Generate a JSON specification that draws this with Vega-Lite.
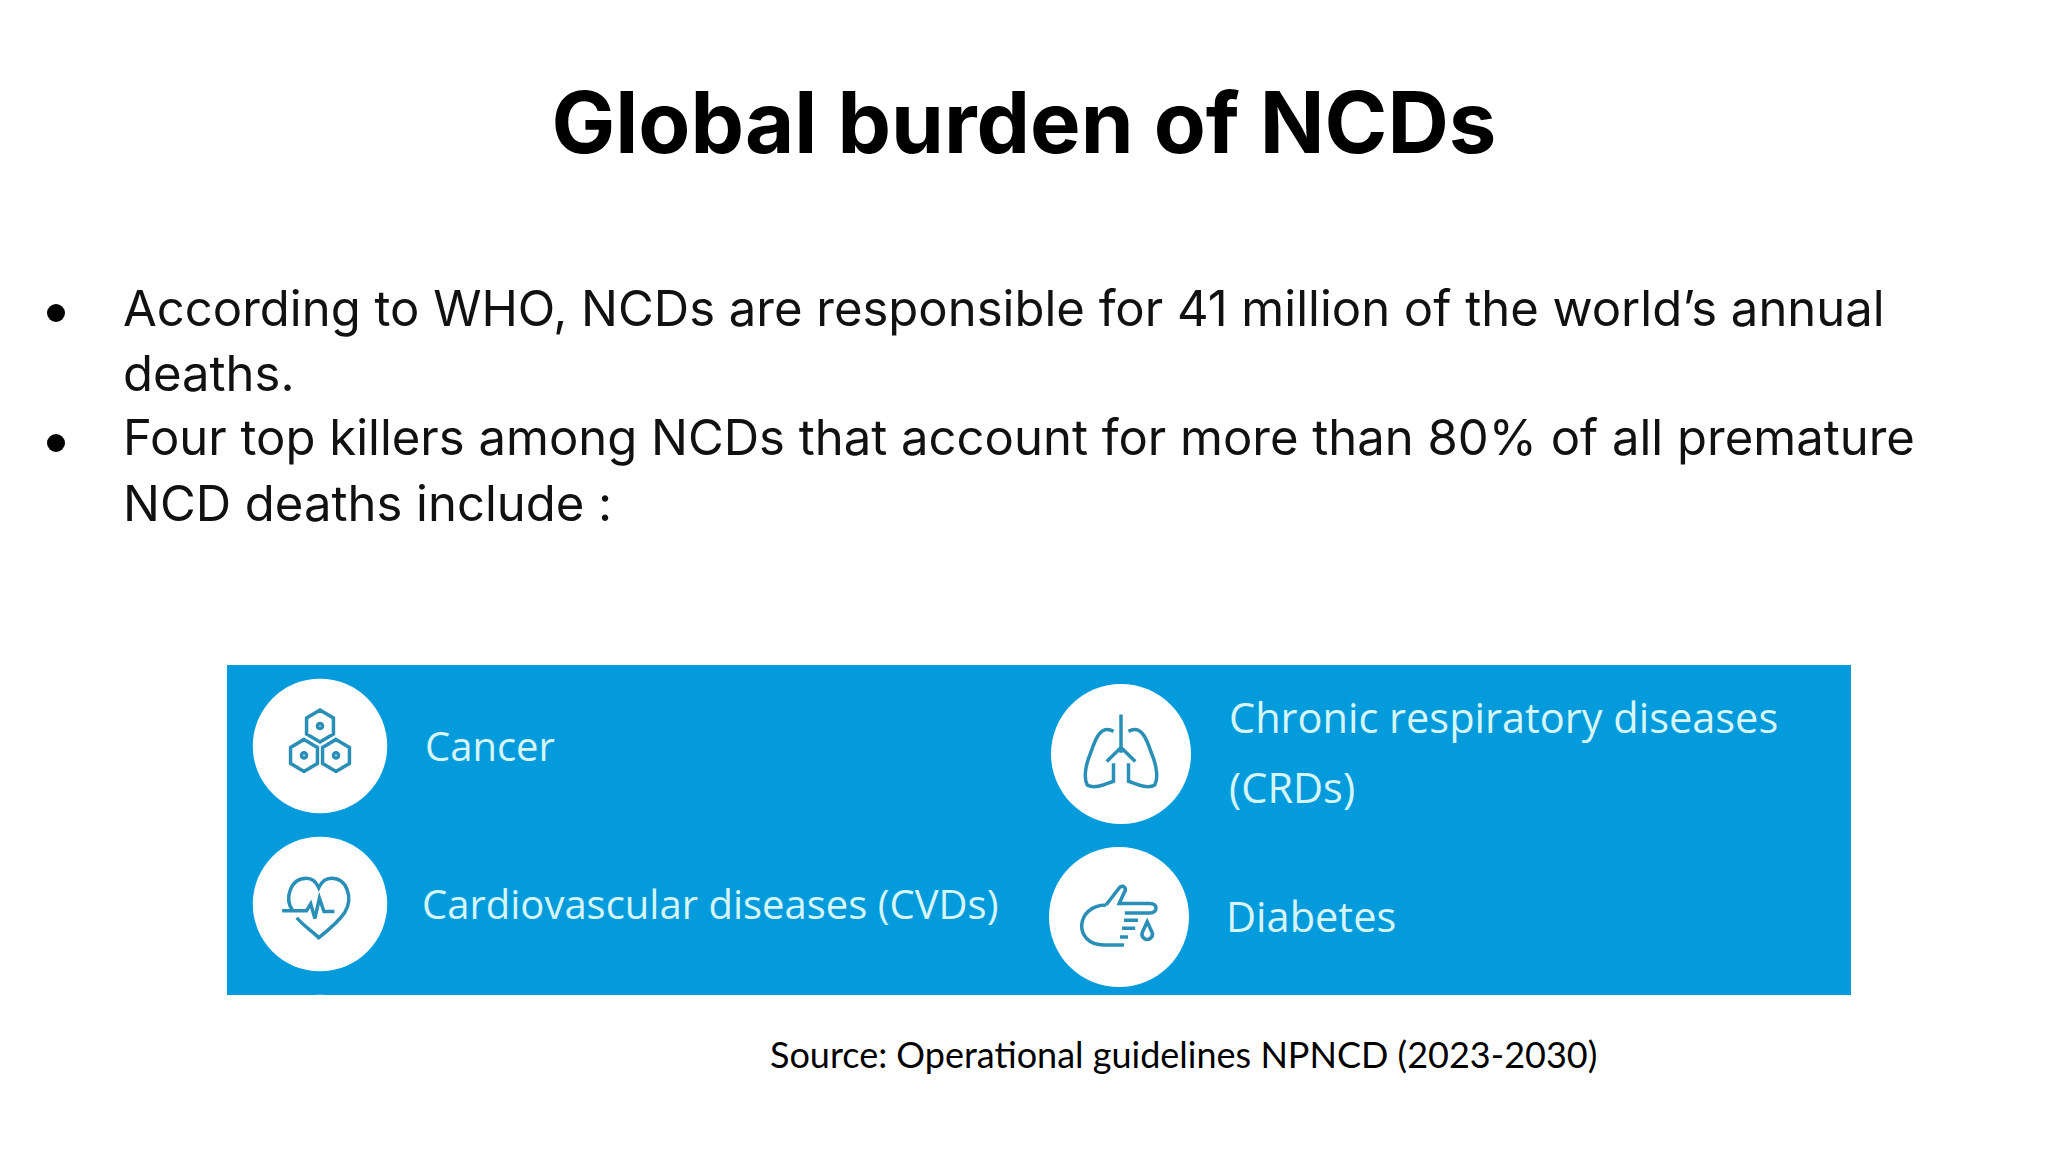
{
  "$schema": "https://vega.github.io/schema/vega-lite/v6.json",
  "width": 2048,
  "height": 1152,
  "autosize": {"type": "fit", "contains": "padding"},
  "padding": 0,
  "background": "white",
  "view": {"stroke": null},
  "encoding": {
    "x": {"field": "x", "type": "quantitative", "scale": {"domain": [0, 2048], "nice": false, "zero": false}, "axis": null},
    "y": {"field": "y", "type": "quantitative", "scale": {"domain": [1152, 0], "nice": false, "zero": false}, "axis": null}
  },
  "layer": [
    {
      "data": {"values": [{"x": 227, "x2": 1851, "y": 665, "y2": 995}]},
      "mark": {"type": "rect", "color": "#049bdc"},
      "encoding": {"x2": {"field": "x2"}, "y2": {"field": "y2"}}
    },
    {
      "data": {"values": [
        {"x": 320, "y": 746},
        {"x": 320, "y": 904},
        {"x": 320, "y": 1062}
      ]},
      "mark": {"type": "point", "shape": "circle", "filled": true, "color": "white", "opacity": 1, "size": 18090}
    },
    {
      "data": {"values": [
        {"x": 1121, "y": 754},
        {"x": 1119, "y": 917}
      ]},
      "mark": {"type": "point", "shape": "circle", "filled": true, "color": "white", "opacity": 1, "size": 19600}
    },
    {
      "data": {"values": [
        {"x": 320, "y": 741, "icon": "cancer"},
        {"x": 317, "y": 908, "icon": "heart"},
        {"x": 1121, "y": 752, "icon": "lungs"},
        {"x": 1120, "y": 917, "icon": "hand"}
      ]},
      "mark": {"type": "point", "filled": false, "color": "#2a8fb6", "strokeWidth": 3.5, "opacity": 1},
      "encoding": {
        "size": {
          "field": "icon",
          "type": "nominal",
          "legend": null,
          "scale": {"domain": ["cancer", "heart", "lungs", "hand"], "range": [4096, 6400, 4624, 4900]}
        },
        "shape": {
          "field": "icon",
          "type": "nominal",
          "legend": null,
          "scale": {
            "domain": ["cancer", "heart", "lungs", "hand"],
            "range": [
              "M0 -0.97L0.42 -0.72L0.42 -0.22L0 0.03L-0.42 -0.22L-0.42 -0.72ZM-0.5 -0.05L-0.08 0.2L-0.08 0.7L-0.5 0.95L-0.92 0.7L-0.92 0.2ZM0.5 -0.05L0.92 0.2L0.92 0.7L0.5 0.95L0.08 0.7L0.08 0.2ZM-0.08 -0.47a0.08 0.08 0 1 0 0.16 0a0.08 0.08 0 1 0 -0.16 0ZM-0.58 0.45a0.08 0.08 0 1 0 0.16 0a0.08 0.08 0 1 0 -0.16 0ZM0.42 0.45a0.08 0.08 0 1 0 0.16 0a0.08 0.08 0 1 0 -0.16 0Z",
              "M-0.7 0.08C-0.95 -0.3 -0.75 -0.85 -0.3 -0.85C-0.15 -0.85 -0.03 -0.75 0.05 -0.58C0.13 -0.75 0.27 -0.85 0.42 -0.85C0.85 -0.85 1.05 -0.3 0.8 0.12C0.6 0.42 0.3 0.65 0.05 0.85C-0.15 0.65 -0.4 0.5 -0.58 0.28M-1 0.08H-0.3L-0.18 -0.12L-0.06 0.3L0.07 -0.28L0.2 0.1H0.5",
              "M0 -1V0.02M0 -0.12L-0.38 0.25M0 -0.12L0.38 0.25M-0.2 -0.55C-0.55 -0.75 -0.7 -0.3 -0.8 0C-0.95 0.35 -1 0.7 -0.9 0.88C-0.7 1 -0.4 0.85 -0.2 0.78V0.3M0.2 -0.55C0.55 -0.75 0.7 -0.3 0.8 0C0.95 0.35 1 0.7 0.9 0.88C0.7 1 0.4 0.85 0.2 0.78V0.3",
              "M-0.35 -0.3L0 -0.75C0.1 -0.82 0.18 -0.7 0.1 -0.6L-0.02 -0.34H0.75C0.95 -0.34 0.95 -0.1 0.75 -0.1H0.12M-0.35 -0.3C-1.1 -0.3 -1.2 0.68 -0.4 0.7H0.1M0.1 0.08H0.45M0.05 0.28H0.38M0 0.5H0.2M0.68 0.12L0.8 0.38A0.13 0.13 0 1 1 0.56 0.38Z"
            ]
          }
        }
      }
    },
    {
      "data": {"values": [{"x": 56, "y": 313}, {"x": 56, "y": 443}]},
      "mark": {"type": "point", "shape": "circle", "filled": true, "color": "black", "opacity": 1, "size": 324}
    },
    {
      "data": {"values": [{"x": 1024, "y": 153, "label": "Global burden of NCDs"}]},
      "mark": {"type": "text", "font": "Inter", "fontWeight": 700, "fontSize": 85, "align": "center", "baseline": "alphabetic", "color": "black"},
      "encoding": {"text": {"field": "label"}}
    },
    {
      "data": {"values": [
        {"x": 123, "y": 326, "label": "According to WHO, NCDs are responsible for 41 million of the world’s annual"},
        {"x": 123, "y": 391, "label": "deaths."},
        {"x": 123, "y": 455, "label": "Four top killers among NCDs that account for more than 80% of all premature"},
        {"x": 123, "y": 521, "label": "NCD deaths include :"}
      ]},
      "mark": {"type": "text", "font": "Inter", "fontWeight": 400, "fontSize": 49, "align": "left", "baseline": "alphabetic", "color": "#111111"},
      "encoding": {"text": {"field": "label"}}
    },
    {
      "data": {"values": [
        {"x": 425, "y": 761, "label": "Cancer"},
        {"x": 422, "y": 919, "label": "Cardiovascular diseases (CVDs)"}
      ]},
      "mark": {"type": "text", "font": "Open Sans", "fontSize": 40, "align": "left", "baseline": "alphabetic", "color": "#d6f6f6"},
      "encoding": {"text": {"field": "label"}}
    },
    {
      "data": {"values": [
        {"x": 1229, "y": 733, "label": "Chronic respiratory diseases"},
        {"x": 1229, "y": 803, "label": "(CRDs)"},
        {"x": 1226, "y": 932, "label": "Diabetes"}
      ]},
      "mark": {"type": "text", "font": "Open Sans", "fontSize": 41.5, "align": "left", "baseline": "alphabetic", "color": "#d6f6f6"},
      "encoding": {"text": {"field": "label"}}
    },
    {
      "data": {"values": [{"x": 770, "y": 1068, "label": "Source: Operational guidelines NPNCD (2023-2030)"}]},
      "mark": {"type": "text", "font": "Lato", "fontSize": 36, "align": "left", "baseline": "alphabetic", "color": "black"},
      "encoding": {"text": {"field": "label"}}
    }
  ]
}
